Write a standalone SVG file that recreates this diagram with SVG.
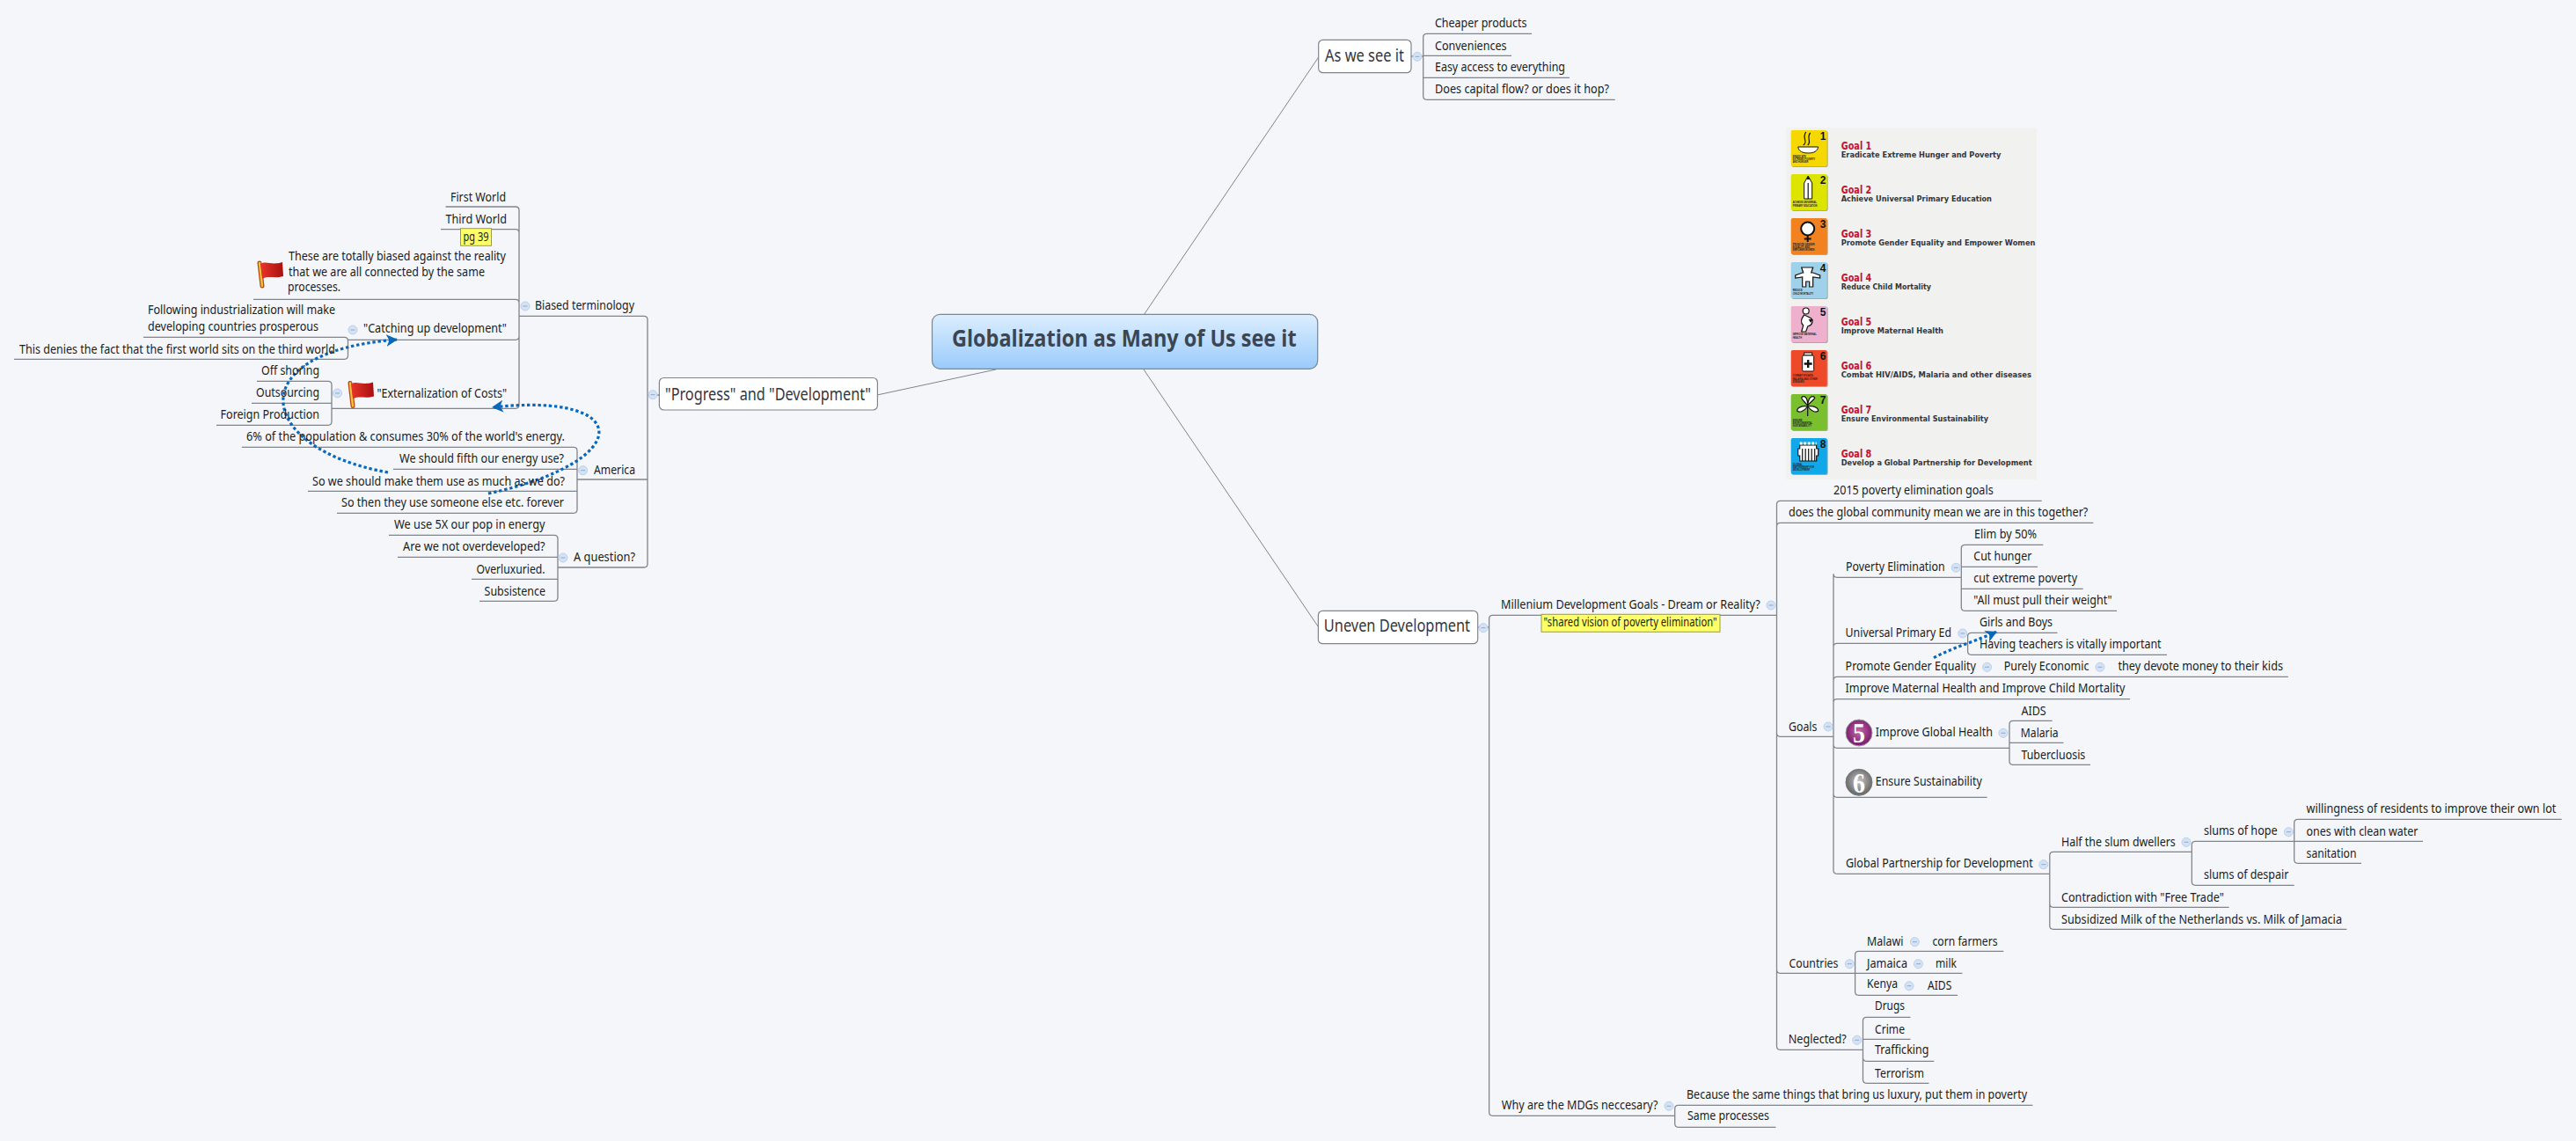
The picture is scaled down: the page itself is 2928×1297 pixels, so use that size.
<svg xmlns="http://www.w3.org/2000/svg" width="2928" height="1297" viewBox="0 0 2928 1297">
<style>
text{font-family:"Noto Sans","Open Sans","Liberation Sans",sans-serif;font-size:14.2px;fill:#1a1c20}
.m{font-size:19px;fill:#33383e}
.r{font-family:"Open Sans","Liberation Sans",sans-serif;font-size:27px;font-weight:700;fill:#3d4650}
.c path,.l{fill:none;stroke:#80858c;stroke-width:1.3}
.c .th{stroke-width:1}
.box{fill:#fff;stroke:#80858c;stroke-width:1.2}
.note{fill:#ffff66;stroke:#9a9a50;stroke-width:1}
.a{fill:none;stroke:#0b67b8;stroke-width:3;stroke-dasharray:3 2.6;marker-end:url(#ah)}
.g1{font-family:"DejaVu Sans",sans-serif;font-size:11.5px;font-weight:700;fill:#c4122f}
.g2{font-family:"DejaVu Sans",sans-serif;font-size:8.6px;font-weight:700;fill:#33363a}
.n{font-family:"Liberation Sans",sans-serif;font-size:12px;font-weight:700;fill:#111}
.s{font-family:"Liberation Sans",sans-serif;font-size:2.6px;font-weight:700;fill:#222}
.w{fill:#fff;stroke:#111;stroke-width:1.2}
.k{fill:none;stroke:#111;stroke-width:1.2}
.tile{stroke:none}
</style>
<defs>
<linearGradient id="rg" x1="0" y1="0" x2="0" y2="1"><stop offset="0" stop-color="#dceeff"/><stop offset="1" stop-color="#9acbfb"/></linearGradient>
<linearGradient id="fg" x1="0" y1="0" x2="1" y2="0"><stop offset="0" stop-color="#e8352a"/><stop offset="1" stop-color="#a80f10"/></linearGradient>
<radialGradient id="b5" cx=".5" cy=".45" r=".6"><stop offset="0" stop-color="#c768a8"/><stop offset=".85" stop-color="#7a1f70"/><stop offset="1" stop-color="#d8a8d0"/></radialGradient>
<radialGradient id="b6" cx=".5" cy=".45" r=".6"><stop offset="0" stop-color="#c8c8c8"/><stop offset=".85" stop-color="#6a6a6a"/><stop offset="1" stop-color="#ccc"/></radialGradient>
<marker id="ah" markerUnits="userSpaceOnUse" markerWidth="16" markerHeight="14" refX="12" refY="7" orient="auto"><path d="M0 0L13 7L0 14L3.5 7Z" fill="#0b67b8"/></marker>
<g id="col"><circle r="5" fill="#d4e2f5" stroke="#bccfea"/><path d="M-2.5 0H2.5" stroke="#8fa9cc"/></g>
<g id="flag"><path d="M3 3L6 29" stroke="#b84a10" stroke-width="5" stroke-linecap="round"/><path d="M3 3L6 29" stroke="#f6c23a" stroke-width="2.4" stroke-linecap="round"/><path d="M4 4C11 0 16 6 29 2L30 18C21 21 13 17 6 21Z" fill="url(#fg)"/></g>
</defs>
<rect width="2928" height="1297" fill="#f4f6fa"/>

<g id="connectors" class="c">
<path class="th" d="M1300.5 357.3L1498.7 65M1132 420L997 449M1299.5 419.3L1498.4 712.5"/>
<path d="M1604 64H1617.7M1741 38.3H1621.7Q1617.7 38.3 1617.7 42.3V109.3Q1617.7 113.3 1621.7 113.3H1835.7M1617.7 63.3H1718M1617.7 88.3H1784"/>
<path d="M506.5 235H586Q590 235 590 239V460.3Q590 464.3 586 464.3H377M501 260.7H586Q590 260.7 590 264.7M288 340.3H586Q590 340.3 590 344.3M395.5 386.3H586Q590 386.3 590 382.3"/>
<path d="M590 359.3H732Q736 359.3 736 363.3V641Q736 645 732 645H634M656 545H736M736 449H749"/>
<path d="M163 383.3H391.5Q395.5 383.3 395.5 387.3V404.3Q395.5 408.3 391.5 408.3H16"/>
<path d="M292 433.3H373Q377 433.3 377 437.3V479.3Q377 483.3 373 483.3H246M286 458.3H377"/>
<path d="M275 508.3H652Q656 508.3 656 512.3V579.3Q656 583.3 652 583.3H383M447 533.3H656M350 558.3H656"/>
<path d="M442 608.3H630Q634 608.3 634 612.3V679.3Q634 683.3 630 683.3H545M452 633.3H634M536 658.3H634"/>
<path d="M1680 713H1692.6M2019.5 699.3H1696.6Q1692.6 699.3 1692.6 703.3V1264.3Q1692.6 1268.3 1696.6 1268.3H1903.7"/>
<path d="M2320.7 569.3H2023.5Q2019.5 569.3 2019.5 573.3V1189.3Q2019.5 1193.3 2023.5 1193.3H2117.5M2379.3 594.3H2023.5Q2019.5 594.3 2019.5 598.3M2019.5 833.3Q2019.5 837.3 2023.5 837.3H2084M2019.5 1102.3Q2019.5 1106.3 2023.5 1106.3H2108.6"/>
<path d="M2229.3 656.3H2088Q2084 656.3 2084 652.3M2084 652.3V989.3Q2084 993.3 2088 993.3H2329.8M2088 731.3H2236.6M2084 735.3Q2084 731.3 2088 731.3M2088 769.3H2600.8M2084 773.3Q2084 769.3 2088 769.3M2088 794.7H2421M2084 798.7Q2084 794.7 2088 794.7M2084 846.3Q2084 850.3 2088 850.3H2284M2084 902.3Q2084 906.3 2088 906.3H2258.6"/>
<path d="M2322.3 619.3H2233.3Q2229.3 619.3 2229.3 623.3V690.3Q2229.3 694.3 2233.3 694.3H2406M2229.3 644.3H2316M2229.3 669.3H2367.7"/>
<path d="M2338.5 719.3H2240.6Q2236.6 719.3 2236.6 723.3V740.3Q2236.6 744.3 2240.6 744.3H2463"/>
<path d="M2332.7 819.3H2288Q2284 819.3 2284 823.3V865.3Q2284 869.3 2288 869.3H2376M2284 844.3H2345.4"/>
<path d="M2491.3 968.3H2333.8Q2329.8 968.3 2329.8 972.3V1052.3Q2329.8 1056.3 2333.8 1056.3H2667.4M2329.8 1027.3Q2329.8 1031.3 2333.8 1031.3H2533.6"/>
<path d="M2607.7 956.3H2495.3Q2491.3 956.3 2491.3 960.3V1002.3Q2491.3 1006.3 2495.3 1006.3H2607.7"/>
<path d="M2911.7 931.3H2611.7Q2607.7 931.3 2607.7 935.3V977.3Q2607.7 981.3 2611.7 981.3H2684M2607.7 956.3H2754"/>
<path d="M2277.3 1081.3H2112.6Q2108.6 1081.3 2108.6 1085.3V1127.3Q2108.6 1131.3 2112.6 1131.3H2225M2108.6 1106.3H2230.4"/>
<path d="M2171.5 1156.3H2121.5Q2117.5 1156.3 2117.5 1160.3V1227.3Q2117.5 1231.3 2121.5 1231.3H2192.5M2117.5 1181.3H2171.5M2117.5 1202.3Q2117.5 1206.3 2121.5 1206.3H2198.3"/>
<path d="M2310.4 1256.3H1907.7Q1903.7 1256.3 1903.7 1260.3V1277.3Q1903.7 1281.3 1907.7 1281.3H2018.4"/>
<path class="a" style="stroke:#0b67b8;stroke-width:3.2;stroke-dasharray:3.4 2.8" d="M441 537C290 510 271 400 451 386"/>
<path class="a" style="stroke:#0b67b8;stroke-width:3.2;stroke-dasharray:3.4 2.8" d="M555 561C722 525 722 445 560 463"/>
<path class="a" style="stroke:#0b67b8;stroke-width:3.2;stroke-dasharray:3.4 2.8" d="M2198 747.7C2222 735 2248 728 2269 718.3"/>
</g>

<g id="root"><rect x="1059.5" y="357.3" width="438.2" height="62" rx="9" fill="url(#rg)" stroke="#7a8794" stroke-width="1.2"/><text class="r" x="1082" y="394.3" textLength="391.6" lengthAdjust="spacingAndGlyphs">Globalization as Many of Us see it</text></g>

<g id="as-we-see-it"><rect class="box" x="1498.7" y="45.3" width="105.3" height="37.4" rx="5"/><text class="m" x="1506" y="70.3" textLength="90" lengthAdjust="spacingAndGlyphs">As we see it</text><use href="#col" x="1611" y="64.3"/></g>
<g id="n-cheaper"><text x="1631" y="30.7" textLength="104.5" lengthAdjust="spacingAndGlyphs">Cheaper products</text></g>
<g id="n-conv"><text x="1631" y="57.3" textLength="81.5" lengthAdjust="spacingAndGlyphs">Conveniences</text></g>
<g id="n-easy"><text x="1631" y="81" textLength="148" lengthAdjust="spacingAndGlyphs">Easy access to everything</text></g>
<g id="n-capital"><text x="1631" y="105.7" textLength="198" lengthAdjust="spacingAndGlyphs">Does capital flow? or does it hop?</text></g>

<g id="progress"><rect class="box" x="749.4" y="429.5" width="248" height="36.5" rx="5"/><text class="m" x="756" y="454.5" textLength="234" lengthAdjust="spacingAndGlyphs">"Progress" and "Development"</text><use href="#col" x="742" y="448.7"/></g>
<g id="biased"><text x="608" y="351.7" textLength="113" lengthAdjust="spacingAndGlyphs">Biased terminology</text><use href="#col" x="597" y="348"/></g>
<g id="first-world"><text x="512" y="229" textLength="63" lengthAdjust="spacingAndGlyphs">First World</text></g>
<g id="third-world"><text x="506.5" y="254" textLength="69.5" lengthAdjust="spacingAndGlyphs">Third World</text></g>
<g id="pg39"><rect class="note" x="523.5" y="259.7" width="35" height="19.6"/><text x="526.5" y="274" textLength="29" lengthAdjust="spacingAndGlyphs">pg 39</text></g>
<g id="these"><use href="#flag" x="292" y="296"/><text x="328" y="296" textLength="247" lengthAdjust="spacingAndGlyphs">These are totally biased against the reality</text><text x="328" y="314" textLength="223" lengthAdjust="spacingAndGlyphs">that we are all connected by the same</text><text x="327" y="330.7" textLength="60" lengthAdjust="spacingAndGlyphs">processes.</text></g>
<g id="catching"><text x="413" y="378.3" textLength="163" lengthAdjust="spacingAndGlyphs">"Catching up development"</text><use href="#col" x="401" y="375"/></g>
<g id="following"><text x="168" y="357.3" textLength="213" lengthAdjust="spacingAndGlyphs">Following industrialization will make</text><text x="168" y="375.7" textLength="194" lengthAdjust="spacingAndGlyphs">developing countries prosperous</text></g>
<g id="denies"><text x="22" y="401.7" textLength="359" lengthAdjust="spacingAndGlyphs">This denies the fact that the first world sits on the third world</text></g>
<g id="external"><use href="#flag" x="395" y="432.5"/><text x="428.5" y="452" textLength="147.5" lengthAdjust="spacingAndGlyphs">"Externalization of Costs"</text><use href="#col" x="383.5" y="447"/></g>
<g id="offshoring"><text x="297" y="425.7" textLength="66" lengthAdjust="spacingAndGlyphs">Off shoring</text></g>
<g id="outsourcing"><text x="291" y="450.7" textLength="72" lengthAdjust="spacingAndGlyphs">Outsourcing</text></g>
<g id="foreign"><text x="250.6" y="475.7" textLength="112.4" lengthAdjust="spacingAndGlyphs">Foreign Production</text></g>
<g id="america"><text x="675" y="538.7" textLength="47" lengthAdjust="spacingAndGlyphs">America</text><use href="#col" x="662.6" y="534.7"/></g>
<g id="six"><text x="280" y="500.7" textLength="362" lengthAdjust="spacingAndGlyphs">6% of the population &amp; consumes 30% of the world's energy.</text></g>
<g id="fifth"><text x="454" y="525.7" textLength="187" lengthAdjust="spacingAndGlyphs">We should fifth our energy use?</text></g>
<g id="much"><text x="355" y="552" textLength="287" lengthAdjust="spacingAndGlyphs">So we should make them use as much as we do?</text></g>
<g id="forever"><text x="388" y="575.7" textLength="253" lengthAdjust="spacingAndGlyphs">So then they use someone else etc. forever</text></g>
<g id="question"><text x="652" y="637.7" textLength="70" lengthAdjust="spacingAndGlyphs">A question?</text><use href="#col" x="640" y="634"/></g>
<g id="fivex"><text x="448" y="600.7" textLength="171.5" lengthAdjust="spacingAndGlyphs">We use 5X our pop in energy</text></g>
<g id="overdev"><text x="458" y="625.7" textLength="161.5" lengthAdjust="spacingAndGlyphs">Are we not overdeveloped?</text></g>
<g id="overlux"><text x="541.5" y="651.7" textLength="78" lengthAdjust="spacingAndGlyphs">Overluxuried.</text></g>
<g id="subsist"><text x="550.6" y="676.7" textLength="69.4" lengthAdjust="spacingAndGlyphs">Subsistence</text></g>

<g id="uneven"><rect class="box" x="1498.4" y="694.3" width="181.3" height="37.4" rx="5"/><text class="m" x="1504.8" y="717.7" textLength="166.2" lengthAdjust="spacingAndGlyphs">Uneven Development</text><use href="#col" x="1686" y="713.7"/></g>
<g id="mdg"><text x="1706" y="691.7" textLength="294.7" lengthAdjust="spacingAndGlyphs">Millenium Development Goals - Dream or Reality?</text><use href="#col" x="2013" y="688"/></g>
<g id="shared"><rect class="note" x="1752" y="698.3" width="203" height="20"/><text x="1754.6" y="712.3" textLength="197" lengthAdjust="spacingAndGlyphs">"shared vision of poverty elimination"</text></g>
<g id="y2015"><text x="2084" y="561.7" textLength="181.7" lengthAdjust="spacingAndGlyphs">2015 poverty elimination goals</text></g>
<g id="together"><text x="2033" y="586.7" textLength="340.3" lengthAdjust="spacingAndGlyphs">does the global community mean we are in this together?</text></g>
<g id="goals"><text x="2033" y="831" textLength="32.4" lengthAdjust="spacingAndGlyphs">Goals</text><use href="#col" x="2078" y="826"/></g>
<g id="poverty"><text x="2098" y="649" textLength="112.7" lengthAdjust="spacingAndGlyphs">Poverty Elimination</text><use href="#col" x="2223.3" y="645.3"/></g>
<g id="elim"><text x="2244" y="611.7" textLength="71" lengthAdjust="spacingAndGlyphs">Elim by 50%</text></g>
<g id="cut"><text x="2243.3" y="636.7" textLength="66" lengthAdjust="spacingAndGlyphs">Cut hunger</text></g>
<g id="extreme"><text x="2243.3" y="661.7" textLength="117.7" lengthAdjust="spacingAndGlyphs">cut extreme poverty</text></g>
<g id="weight"><text x="2243.3" y="686.7" textLength="157.4" lengthAdjust="spacingAndGlyphs">"All must pull their weight"</text></g>
<g id="primary"><text x="2097.6" y="724" textLength="120.4" lengthAdjust="spacingAndGlyphs">Universal Primary Ed</text><use href="#col" x="2230.8" y="720"/></g>
<g id="girls"><text x="2250" y="711.7" textLength="83" lengthAdjust="spacingAndGlyphs">Girls and Boys</text></g>
<g id="teachers"><text x="2250" y="736.7" textLength="206.6" lengthAdjust="spacingAndGlyphs">Having teachers is vitally important</text></g>
<g id="gender"><text x="2097.6" y="761.7" textLength="148.2" lengthAdjust="spacingAndGlyphs">Promote Gender Equality</text><use href="#col" x="2258.6" y="758.3"/></g>
<g id="purely"><text x="2277.7" y="761.7" textLength="96.7" lengthAdjust="spacingAndGlyphs">Purely Economic</text><use href="#col" x="2387" y="758.3"/></g>
<g id="devote"><text x="2407.4" y="761.7" textLength="187.6" lengthAdjust="spacingAndGlyphs">they devote money to their kids</text></g>
<g id="maternal"><text x="2097.6" y="786.7" textLength="317.9" lengthAdjust="spacingAndGlyphs">Improve Maternal Health and Improve Child Mortality</text></g>
<g id="health"><circle cx="2113" cy="833" r="15" fill="url(#b5)" stroke="#999" stroke-width="1"/><text x="2106" y="844" textLength="14" lengthAdjust="spacingAndGlyphs" style="font-family:'Liberation Serif',serif;font-size:31px;font-weight:700;fill:#fff">5</text><text x="2131.8" y="836.7" textLength="133.2" lengthAdjust="spacingAndGlyphs">Improve Global Health</text><use href="#col" x="2277" y="833.3"/></g>
<g id="aids"><text x="2297.4" y="812.7" textLength="28.3" lengthAdjust="spacingAndGlyphs">AIDS</text></g>
<g id="malaria"><text x="2296.8" y="838" textLength="42.8" lengthAdjust="spacingAndGlyphs">Malaria</text></g>
<g id="tb"><text x="2297.4" y="862.7" textLength="72.9" lengthAdjust="spacingAndGlyphs">Tubercluosis</text></g>
<g id="sustain"><circle cx="2113" cy="889.3" r="15" fill="url(#b6)" stroke="#777" stroke-width="1"/><text x="2106" y="900.500" textLength="14" lengthAdjust="spacingAndGlyphs" style="font-family:'Liberation Serif',serif;font-size:31px;font-weight:700;fill:#fff">6</text><text x="2131.8" y="892.7" textLength="121" lengthAdjust="spacingAndGlyphs">Ensure Sustainability</text></g>
<g id="partner"><text x="2098" y="985.7" textLength="212.7" lengthAdjust="spacingAndGlyphs">Global Partnership for Development</text><use href="#col" x="2322.8" y="982.7"/></g>
<g id="half"><text x="2343" y="962" textLength="129.8" lengthAdjust="spacingAndGlyphs">Half the slum dwellers</text><use href="#col" x="2485" y="957.3"/></g>
<g id="hope"><text x="2505" y="948.7" textLength="83.6" lengthAdjust="spacingAndGlyphs">slums of hope</text><use href="#col" x="2601.3" y="945.7"/></g>
<g id="despair"><text x="2505" y="998.7" textLength="96.3" lengthAdjust="spacingAndGlyphs">slums of despair</text></g>
<g id="willing"><text x="2621.6" y="923.7" textLength="283.7" lengthAdjust="spacingAndGlyphs">willingness of residents to improve their own lot</text></g>
<g id="clean"><text x="2621.6" y="950" textLength="126.8" lengthAdjust="spacingAndGlyphs">ones with clean water</text></g>
<g id="sanit"><text x="2621.6" y="975" textLength="56.8" lengthAdjust="spacingAndGlyphs">sanitation</text></g>
<g id="contra"><text x="2343" y="1025" textLength="184.8" lengthAdjust="spacingAndGlyphs">Contradiction with "Free Trade"</text></g>
<g id="milk-nl"><text x="2343" y="1050" textLength="319" lengthAdjust="spacingAndGlyphs">Subsidized Milk of the Netherlands vs. Milk of Jamacia</text></g>
<g id="countries"><text x="2033.6" y="1100" textLength="55.8" lengthAdjust="spacingAndGlyphs">Countries</text><use href="#col" x="2102.3" y="1095.7"/></g>
<g id="malawi"><text x="2122" y="1075" textLength="41.5" lengthAdjust="spacingAndGlyphs">Malawi</text><use href="#col" x="2176.4" y="1070.7"/></g>
<g id="corn"><text x="2196.5" y="1075" textLength="74.1" lengthAdjust="spacingAndGlyphs">corn farmers</text></g>
<g id="jamaica"><text x="2122" y="1100" textLength="46" lengthAdjust="spacingAndGlyphs">Jamaica</text><use href="#col" x="2180.5" y="1095.7"/></g>
<g id="milk"><text x="2200" y="1100" textLength="24" lengthAdjust="spacingAndGlyphs">milk</text></g>
<g id="kenya"><text x="2122" y="1123.3" textLength="35" lengthAdjust="spacingAndGlyphs">Kenya</text><use href="#col" x="2170" y="1120.7"/></g>
<g id="aids2"><text x="2191" y="1125" textLength="27.4" lengthAdjust="spacingAndGlyphs">AIDS</text></g>
<g id="neglected"><text x="2032.7" y="1185.7" textLength="66.1" lengthAdjust="spacingAndGlyphs">Neglected?</text><use href="#col" x="2110.8" y="1182.3"/></g>
<g id="drugs"><text x="2131" y="1148.3" textLength="34" lengthAdjust="spacingAndGlyphs">Drugs</text></g>
<g id="crime"><text x="2131" y="1175" textLength="34" lengthAdjust="spacingAndGlyphs">Crime</text></g>
<g id="traffic"><text x="2131" y="1198.3" textLength="61.5" lengthAdjust="spacingAndGlyphs">Trafficking</text></g>
<g id="terror"><text x="2131" y="1225" textLength="56" lengthAdjust="spacingAndGlyphs">Terrorism</text></g>
<g id="why"><text x="1706.8" y="1260.7" textLength="177.7" lengthAdjust="spacingAndGlyphs">Why are the MDGs neccesary?</text><use href="#col" x="1897" y="1257.3"/></g>
<g id="because"><text x="1917" y="1248.7" textLength="387" lengthAdjust="spacingAndGlyphs">Because the same things that bring us luxury, put them in poverty</text></g>
<g id="same"><text x="1918" y="1273.3" textLength="93" lengthAdjust="spacingAndGlyphs">Same processes</text></g>

<g id="mdg-panel">
<rect x="2030" y="145" width="285" height="400" fill="#f1f1f0"/>
<g transform="translate(2035.7 148)"><rect x="1" y="1" width="41" height="41" rx="2" fill="#a8a89e"/><rect class="tile" width="41" height="41" rx="2" fill="#f4d800"/><path class="k" d="M14 17C20 13 12 9 17 2M19 17C24 13 17 9 22 3"/><path d="M8 19H31C30 24 26 26 19.500 26C13 26 9 24 8 19Z" fill="#fff" stroke="#111"/><text class="n" x="33" y="11">1</text><text class="s" x="2" y="31">ERADICATE</text><text class="s" x="2" y="34">EXTREME POVERTY</text><text class="s" x="2" y="37">AND HUNGER</text></g>
<g transform="translate(2035.7 198)"><rect x="1" y="1" width="41" height="41" rx="2" fill="#a8a89e"/><rect class="tile" width="41" height="41" rx="2" fill="#dce400"/><path d="M15 10L19.500 2L24 10V28H15Z" fill="#fff" stroke="#111"/><path d="M17.500 6L19.500 2L21.500 6Z" fill="#111"/><path class="k" d="M19.500 10V28"/><text class="n" x="33" y="11">2</text><text class="s" x="2" y="33">ACHIEVE UNIVERSAL</text><text class="s" x="2" y="36.500">PRIMARY EDUCATION</text></g>
<g transform="translate(2035.7 248)"><rect x="1" y="1" width="41" height="41" rx="2" fill="#a8a89e"/><rect class="tile" width="41" height="41" rx="2" fill="#f28220"/><circle cx="19" cy="12" r="7.500" fill="#fff" stroke="#111" stroke-width="2"/><path d="M19 19V27M15 23.500H23" stroke="#111" stroke-width="2"/><text class="n" x="33" y="11">3</text><text class="s" x="2" y="31">PROMOTE GENDER</text><text class="s" x="2" y="34">EQUALITY AND</text><text class="s" x="2" y="37">EMPOWER WOMEN</text></g>
<g transform="translate(2035.7 298)"><rect x="1" y="1" width="41" height="41" rx="2" fill="#a8a89e"/><rect class="tile" width="41" height="41" rx="2" fill="#9fd2ea"/><path class="w" d="M12 6H25L23 12H25L33 15V18L25 17V28H21V22H17V28H13V17L5 18V15L13 12H14Z"/><text class="n" x="33" y="11">4</text><text class="s" x="2" y="33">REDUCE</text><text class="s" x="2" y="36.500">CHILD MORTALITY</text></g>
<g transform="translate(2035.7 348)"><rect x="1" y="1" width="41" height="41" rx="2" fill="#a8a89e"/><rect class="tile" width="41" height="41" rx="2" fill="#eeb0cc"/><circle cx="17" cy="5.500" r="3.500" class="w"/><path class="w" d="M15 10C10 16 12 20 14 22L12 29H17L19 23C24 22 26 17 23 14C20 12 18 11 15 10Z"/><path d="M20 15H25L22.500 19Z" fill="#111"/><text class="n" x="33" y="11">5</text><text class="s" x="2" y="33">IMPROVE MATERNAL</text><text class="s" x="2" y="36.500">HEALTH</text></g>
<g transform="translate(2035.7 398)"><rect x="1" y="1" width="41" height="41" rx="2" fill="#a8a89e"/><rect class="tile" width="41" height="41" rx="2" fill="#ee4a2a"/><rect x="15" y="3" width="9" height="3" fill="#fff" stroke="#111"/><rect x="13" y="6" width="13" height="18" rx="1.500" fill="#fff" stroke="#111"/><path d="M19.500 11V20M15 15.500H24" stroke="#111" stroke-width="2.400"/><text class="n" x="33" y="11">6</text><text class="s" x="2" y="30">COMBAT HIV/AIDS,</text><text class="s" x="2" y="33.500">MALARIA AND OTHER</text><text class="s" x="2" y="37">DISEASES</text></g>
<g transform="translate(2035.7 448)"><rect x="1" y="1" width="41" height="41" rx="2" fill="#a8a89e"/><rect class="tile" width="41" height="41" rx="2" fill="#7abf2e"/><path class="w" d="M19 13C15 8 12 6 12 4C14 1 19 2 19 13ZM19 13C23 8 27 6 27 4C25 1 20 2 19 13ZM19 14C13 13 7 15 7 19C10 22 15 19 19 14ZM19 14C25 13 31 15 31 19C28 22 23 19 19 14Z"/><path class="k" d="M19 14V25"/><text class="n" x="33" y="11">7</text><text class="s" x="2" y="31">ENSURE</text><text class="s" x="2" y="34">ENVIRONMENTAL</text><text class="s" x="2" y="37">SUSTAINABILITY</text></g>
<g transform="translate(2035.7 498)"><rect x="1" y="1" width="41" height="41" rx="2" fill="#a8a89e"/><rect class="tile" width="41" height="41" rx="2" fill="#10a8e8"/><path class="w" d="M10 8H29V12H31V20H29V26H10V20H8V12H10Z"/><path d="M13 12V26M16.500 12V26M20 12V26M23.500 12V26M27 12V26" class="k"/><path d="M10 6H29" stroke="#fff" stroke-width="3" stroke-dasharray="3 1.500"/><text class="n" x="33" y="11">8</text><text class="s" x="2" y="31">GLOBAL</text><text class="s" x="2" y="34">PARTNERSHIP FOR</text><text class="s" x="2" y="37">DEVELOPMENT</text></g>
<text class="g1" x="2092.7" y="170" textLength="34.700" lengthAdjust="spacingAndGlyphs">Goal 1</text><text class="g2" x="2092.700" y="179.300" textLength="181.700" lengthAdjust="spacingAndGlyphs">Eradicate Extreme Hunger and Poverty</text>
<text class="g1" x="2092.7" y="220" textLength="34.700" lengthAdjust="spacingAndGlyphs">Goal 2</text><text class="g2" x="2092.700" y="229.300" textLength="171.300" lengthAdjust="spacingAndGlyphs">Achieve Universal Primary Education</text>
<text class="g1" x="2092.7" y="270" textLength="34.700" lengthAdjust="spacingAndGlyphs">Goal 3</text><text class="g2" x="2092.700" y="279.300" textLength="220.700" lengthAdjust="spacingAndGlyphs">Promote Gender Equality and Empower Women</text>
<text class="g1" x="2092.7" y="320" textLength="34.700" lengthAdjust="spacingAndGlyphs">Goal 4</text><text class="g2" x="2092.700" y="329.300" textLength="102.300" lengthAdjust="spacingAndGlyphs">Reduce Child Mortality</text>
<text class="g1" x="2092.7" y="370" textLength="34.700" lengthAdjust="spacingAndGlyphs">Goal 5</text><text class="g2" x="2092.700" y="379.300" textLength="116.300" lengthAdjust="spacingAndGlyphs">Improve Maternal Health</text>
<text class="g1" x="2092.7" y="420" textLength="34.700" lengthAdjust="spacingAndGlyphs">Goal 6</text><text class="g2" x="2092.700" y="429.300" textLength="216.300" lengthAdjust="spacingAndGlyphs">Combat HIV/AIDS, Malaria and other diseases</text>
<text class="g1" x="2092.7" y="470" textLength="34.700" lengthAdjust="spacingAndGlyphs">Goal 7</text><text class="g2" x="2092.700" y="479.300" textLength="167.300" lengthAdjust="spacingAndGlyphs">Ensure Environmental Sustainability</text>
<text class="g1" x="2092.7" y="520" textLength="34.700" lengthAdjust="spacingAndGlyphs">Goal 8</text><text class="g2" x="2092.700" y="529.300" textLength="217" lengthAdjust="spacingAndGlyphs">Develop a Global Partnership for Development</text>
</g>
</svg>
